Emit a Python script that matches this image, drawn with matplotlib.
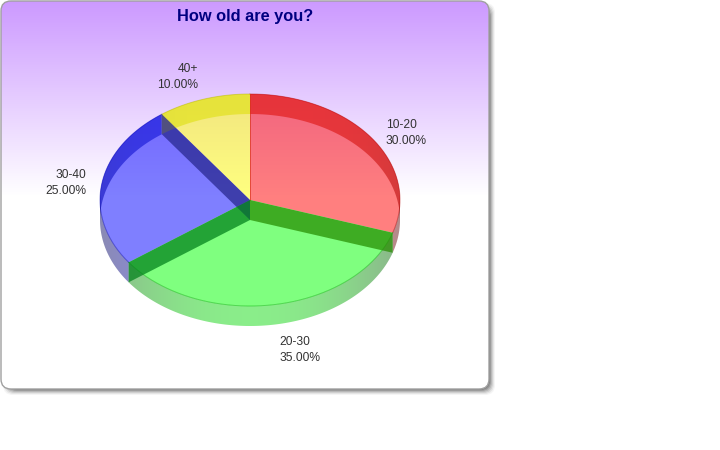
import numpy as np
import matplotlib
matplotlib.use('Agg')
import matplotlib.pyplot as plt
from matplotlib.patches import FancyBboxPatch, Polygon

# data
labels = ['10-20', '20-30', '30-40', '40+']
shares = [30.0, 35.0, 25.0, 10.0]
colors = [(1, 0, 0), (0, 1, 0), (0, 0, 1), (1, 1, 0)]
title = 'How old are you?'

# pie geometry in pixels
cx, cy = 250, 200
rx, ry = 150, 106
depth = 20

fig = plt.figure(figsize=(7.2, 4.5), dpi=100)
ax = fig.add_axes([0, 0, 1, 1])
ax.set_xlim(0, 720)
ax.set_ylim(450, 0)
ax.axis('off')


def px(size):
    return size * 72 / 100


def ellipse_pts(a0, a1, dy=0):
    # angles in degrees, clockwise from 12 o'clock
    t = np.radians(np.linspace(a0, a1, max(int(abs(a1 - a0)) * 2, 2)))
    return np.column_stack([cx + rx * np.sin(t), cy - ry * np.cos(t) + dy])


def paint(poly, rgb_fn, alpha):
    # horizontal shaded image clipped to a polygon
    x0, x1 = cx - rx - 2, cx + rx + 2
    xs = np.linspace(x0, x1, 320)
    img = np.zeros((1, len(xs), 4))
    img[0, :, :3] = [rgb_fn((x - cx) / rx) for x in xs]
    img[0, :, 3] = alpha
    im = ax.imshow(img, extent=[x0, x1, cy + ry + depth + 2, cy - ry - 2],
                   aspect='auto', interpolation='bilinear', zorder=5)
    patch = Polygon(poly, closed=True, transform=ax.transData)
    im.set_clip_path(patch)


# drop shadow
for grow, a in zip([4, 3, 2, 1, 0, -1], [0.06, 0.1, 0.15, 0.2, 0.3, 0.4]):
    ax.add_patch(FancyBboxPatch((5 - grow + 2, 5 - grow + 2), 486 + 2 * grow - 2, 386 + 2 * grow - 2,
                                boxstyle='round,pad=0,rounding_size=10', fc=(0.35, 0.35, 0.35),
                                ec='none', alpha=a, zorder=1))

# panel with purple to white gradient
box = FancyBboxPatch((1, 1), 488, 388, boxstyle='round,pad=0,rounding_size=10',
                     fc='white', ec='none', zorder=2)
ax.add_patch(box)
grad = np.ones((390, 1, 3))
frac = np.clip(np.arange(390) / 195, 0, 1)[:, None]
grad[:, :, 0] = (204 + (255 - 204) * frac) / 255
grad[:, :, 1] = (153 + (255 - 153) * frac) / 255
grad[:, :, 2] = 1
bg = ax.imshow(grad, extent=[0, 490, 390, 0], aspect='auto', zorder=2.5)
bg.set_clip_path(box)
ax.add_patch(FancyBboxPatch((1, 1), 488, 388, boxstyle='round,pad=0,rounding_size=10',
                            fc='none', ec='#a0a0a0', lw=1.0, zorder=3))
ax.set_xlim(0, 720)
ax.set_ylim(450, 0)

ends = np.cumsum(shares) / np.sum(shares) * 360
starts = np.concatenate([[0], ends[:-1]])

for a0, a1, c in zip(starts, ends, colors):
    c = np.array(c, dtype=float)
    top = np.vstack([[cx, cy], ellipse_pts(a0, a1)])
    # top surface
    ax.add_patch(Polygon(top, closed=True, fc=tuple(c), ec='none', alpha=0.5, zorder=4))

    # back rim, seen through the top
    for b0, b1 in [(a0, min(a1, 90)), (max(a0, 270), a1)]:
        if b1 > b0:
            arc = ellipse_pts(b0, b1)
            poly = np.vstack([arc, ellipse_pts(b0, b1, depth)[::-1]])
            paint(poly, lambda u, c=c: np.clip(c * (0.76 - 0.12 * u ** 4) + 0.13, 0, 1), 0.72)

    # front wall
    b0, b1 = max(a0, 90), min(a1, 270)
    if b1 > b0:
        arc = ellipse_pts(b0, b1)
        poly = np.vstack([arc, ellipse_pts(b0, b1, depth)[::-1]])
        paint(poly, lambda u, c=c: np.clip(c * (0.78 - 0.45 * u ** 2) + 0.08, 0, 1), 0.5)

    # rim line
    rim = ellipse_pts(a0, a1)
    ax.plot(rim[:, 0], rim[:, 1], color=tuple(c * 0.7), lw=0.7, alpha=0.45, zorder=6)

# cut faces that can be seen, green faces carry a little of their neighbour
faces = [(ends[2], (0.15, 0.15, 0.55)), (ends[0], (0.15, 0.55, 0.0)), (ends[1], (0.0, 0.5, 0.1))]
for a, fc in faces:
    edge = ellipse_pts(a, a + 0.01)[0]
    face = np.array([[cx, cy], edge, edge + [0, depth], [cx, cy + depth]])
    ax.add_patch(Polygon(face, closed=True, fc=fc, ec='none', alpha=0.72, zorder=7))

ax.plot([cx, cx], [cy - ry, cy], color=(0.85, 0.2, 0.1), lw=0.7, alpha=0.7, zorder=6)

font = 'Liberation Sans'
ax.text(245, 16, title, ha='center', va='center', fontsize=px(16.4), fontweight='bold',
        color='#000080', family=font, zorder=9)

label_pos = [(386, 133, 'left'), (279, 350, 'left'), (86, 183, 'right'), (198, 77, 'right')]
for name, val, (x, y, ha) in zip(labels, shares, label_pos):
    ax.text(x, y, '%s\n%.2f%%' % (name, val), ha=ha, va='center', fontsize=px(12),
            color='#333333', family=font, linespacing=1.35, zorder=9)

fig.savefig('out.png', dpi=100)
